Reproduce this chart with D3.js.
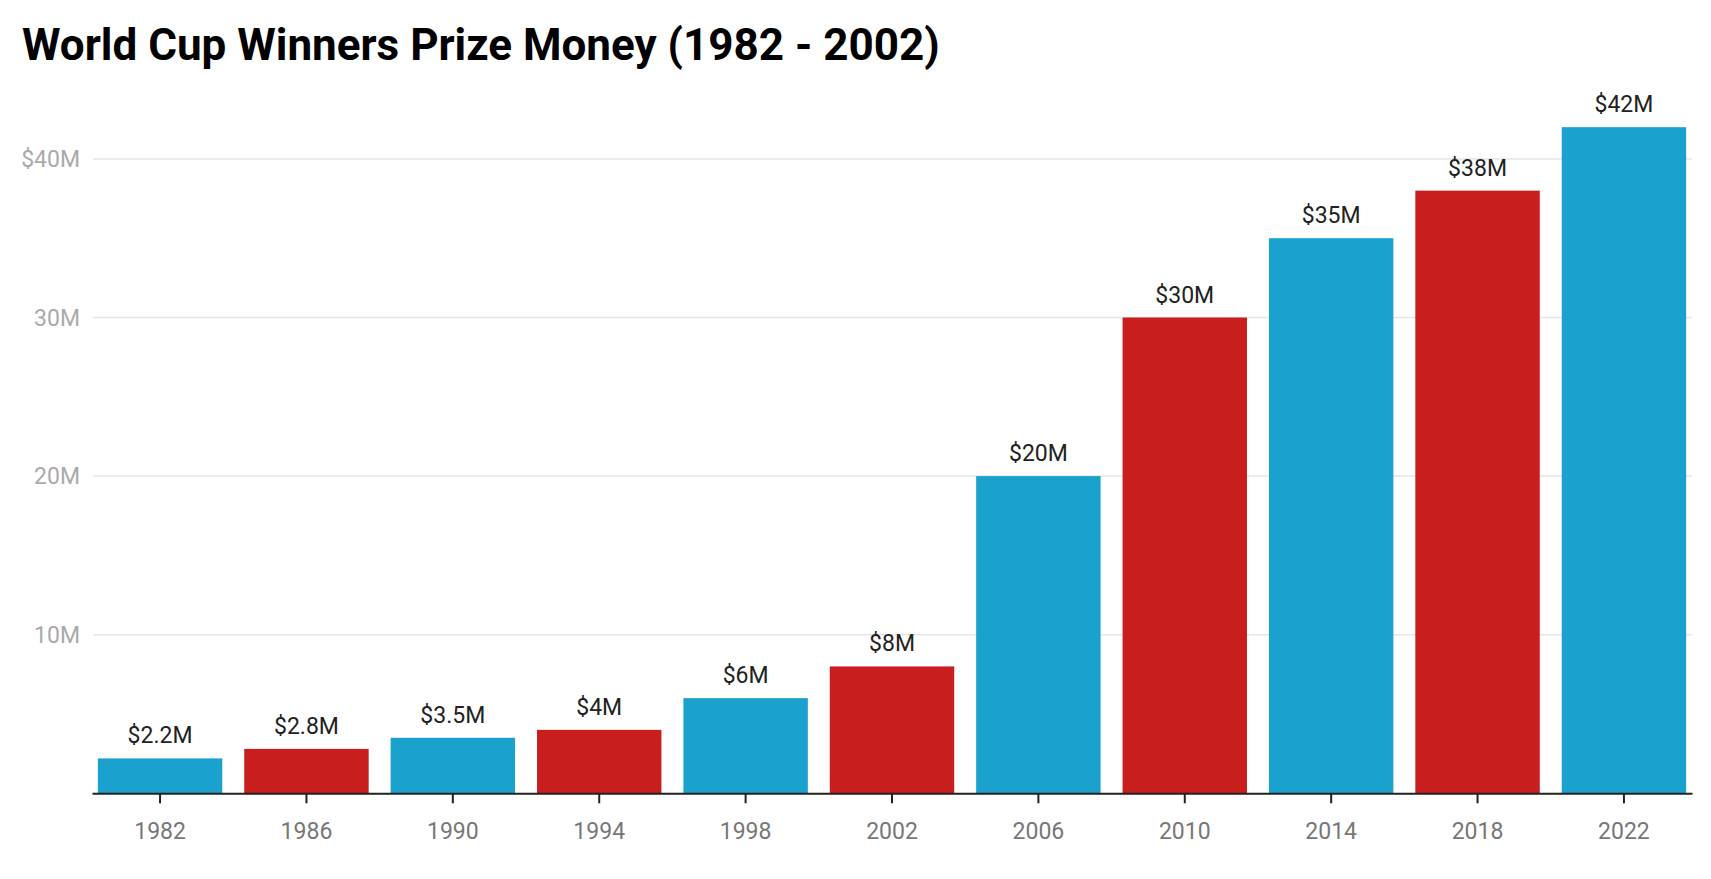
<!DOCTYPE html>
<html>
<head>
<meta charset="utf-8" />
<title>World Cup Winners Prize Money</title>
<script src="https://d3js.org/d3.v7.min.js"></script>
<style>
    body { margin: 0; background: #fff; font-family: Roboto, sans-serif; }
    .grid line { stroke: #e6e6e6; stroke-width: 1.5; }
    .ylab { fill: #aaa; font-size: 23px; }
    .xaxis text { fill: #777; font-size: 23px; font-family: Roboto, sans-serif; }
    .xaxis path, .xaxis line { stroke: #222; stroke-width: 2; }
    .val { fill: #222; font-size: 23px; }
</style>
</head>
<body>
<svg id="chart" width="1711" height="879"></svg>
<script>
    // data
    var years = ["1982", "1986", "1990", "1994", "1998", "2002", "2006", "2010", "2014", "2018", "2022"];
    var prize = [2.2, 2.8, 3.5, 4, 6, 8, 20, 30, 35, 38, 42];
    var yTicks = [10, 20, 30, 40];
    var yTickLabels = ["10M", "20M", "30M", "$40M"];
    var barColors = ["#1aa1ce", "#c81e1e"];

    var svg = d3.select("#chart");

    var left = 92, right = 1692, bottom = 793.3;

    svg.append("text")
        .attr("x", 22)
        .attr("y", 60)
        .style("font-size", "44px")
        .style("font-weight", "bold")
        .style("fill", "#000")
        .text("World Cup Winners Prize Money (1982 - 2002)");

    var x = d3.scaleBand()
        .domain(years)
        .range([left, right])
        .paddingInner(0.15)
        .paddingOuter(0.04);

    var y = d3.scaleLinear()
        .domain([0, 40])
        .range([bottom, bottom - 634.4]);

    // gridlines
    var grid = svg.append("g").attr("class", "grid");
    grid.selectAll("line")
        .data(yTicks)
        .enter().append("line")
        .attr("x1", 93)
        .attr("x2", right)
        .attr("y1", function (d) { return y(d); })
        .attr("y2", function (d) { return y(d); });

    svg.append("g").selectAll("text")
        .data(yTicks)
        .enter().append("text")
        .attr("class", "ylab")
        .attr("x", 80)
        .attr("y", function (d) { return y(d); })
        .attr("dy", "0.35em")
        .attr("text-anchor", "end")
        .text(function (d, i) { return yTickLabels[i]; });

    // bars
    svg.append("g").selectAll("rect")
        .data(prize)
        .enter().append("rect")
        .attr("x", function (d, i) { return x(years[i]); })
        .attr("width", x.bandwidth())
        .attr("y", function (d) { return y(d); })
        .attr("height", function (d) { return bottom - y(d); })
        .style("fill", function (d, i) { return barColors[i % 2]; });

    svg.append("g").selectAll("text")
        .data(prize)
        .enter().append("text")
        .attr("class", "val")
        .attr("x", function (d, i) { return x(years[i]) + x.bandwidth() / 2; })
        .attr("y", function (d) { return y(d) - 15; })
        .attr("text-anchor", "middle")
        .text(function (d) { return "$" + d + "M"; });

    // x axis
    svg.append("g")
        .attr("class", "xaxis")
        .attr("transform", "translate(0," + bottom + ")")
        .call(d3.axisBottom(x).tickSize(10).tickSizeOuter(0).tickPadding(19));
</script>
</body>
</html>
